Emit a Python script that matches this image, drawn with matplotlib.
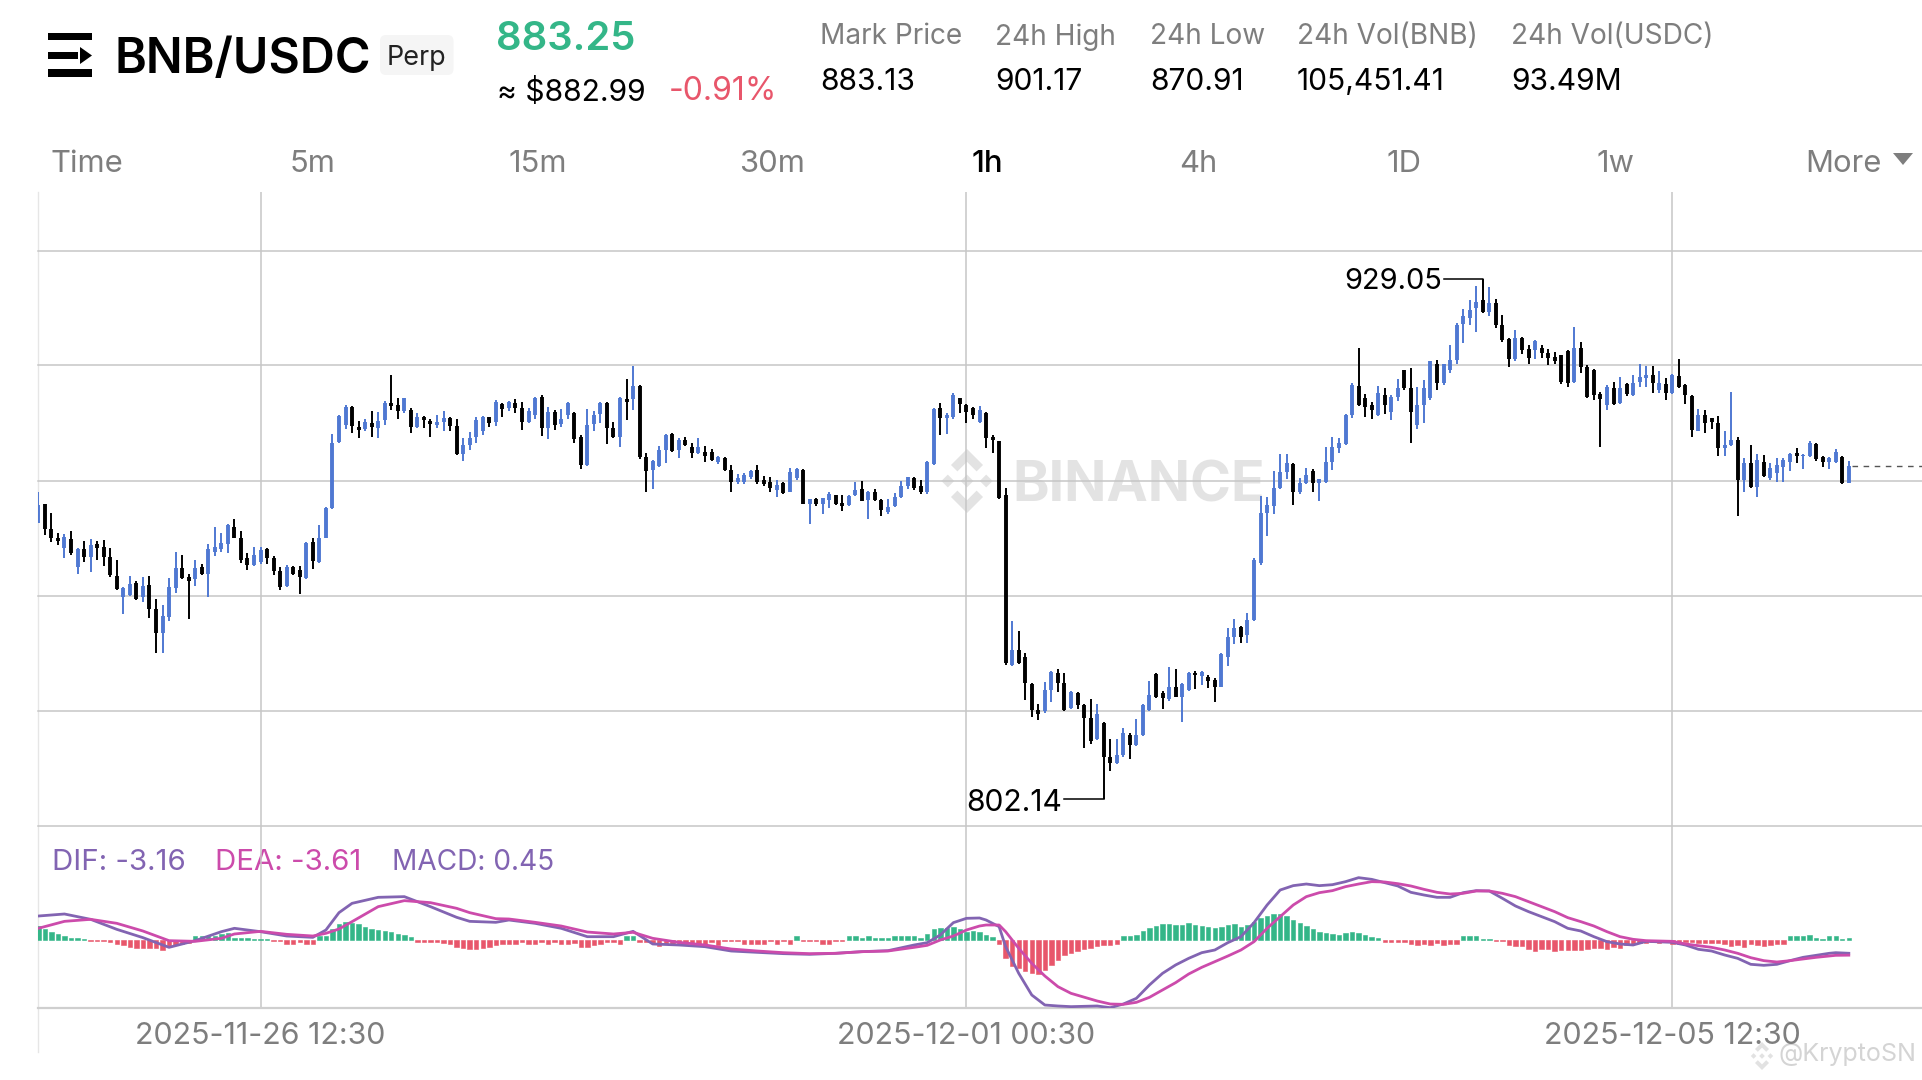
import matplotlib
matplotlib.use("Agg")
import matplotlib.pyplot as plt
from matplotlib.patches import FancyBboxPatch, Polygon, Rectangle

plt.rcParams['font.family'] = ['Inter', 'DejaVu Sans']

# hourly candles
opens = [869.4,874.1,868.1,865.7,863.3,865.5,858.8,863.0,861.2,864.3,
863.5,861.2,856.5,851.4,851.8,854.7,851.4,854.3,848.4,842.5,
846.6,853.5,858.4,856.3,855.7,858.8,857.0,862.4,863.0,864.3,
868.4,865.7,860.8,859.2,859.8,863.0,860.8,857.6,854.1,858.8,
858.0,855.9,864.9,860.0,865.9,873.0,889.3,893.4,897.9,893.0,
892.3,893.8,892.6,894.6,898.7,898.3,896.9,897.1,893.0,895.3,
894.4,893.4,894.2,895.0,893.1,886.3,888.5,890.5,892.0,895.3,
894.0,898.5,897.5,898.7,897.5,894.2,895.8,900.3,892.6,896.6,
893.6,895.8,896.2,890.5,883.6,893.6,896.1,898.7,892.6,890.5,
899.7,899.7,902.9,885.5,882.4,883.4,887.3,891.2,887.3,889.7,
888.1,886.6,886.9,886.9,884.4,885.4,882.4,879.5,879.5,880.6,
882.4,880.0,879.5,877.5,879.1,877.1,880.4,882.5,874.2,875.2,
874.2,875.1,876.2,874.4,873.8,876.3,877.7,875.1,876.9,875.1,
872.2,873.6,875.9,878.5,880.4,878.5,876.9,883.9,897.5,895.0,
895.3,899.9,898.3,897.5,894.2,896.4,890.4,889.4,876.3,834.8,
838.3,836.6,830.0,823.8,823.4,828.6,832.7,830.3,824.2,828.0,
825.0,821.7,816.8,820.7,812.2,810.7,812.8,817.7,815.2,817.7,
823.8,832.6,827.8,826.4,829.5,827.0,828.6,832.7,832.1,831.9,
831.1,829.5,836.8,841.5,844.0,842.1,845.8,859.6,871.8,873.6,
877.9,882.0,883.9,877.1,879.1,882.2,879.1,879.5,884.4,887.7,
888.7,895.8,902.8,899.9,898.3,895.8,900.7,896.6,900.3,906.7,
902.3,893.4,898.3,900.1,908.4,903.6,906.8,909.3,918.1,919.4,
921.9,923.8,921.1,923.1,917.8,914.5,909.4,914.6,911.9,911.7,
912.1,910.9,909.9,910.4,911.5,904.0,912.1,907.5,906.8,901.0,
898.3,902.3,898.7,903.4,900.7,904.0,904.8,905.6,901.9,903.4,
901.1,905.4,903.2,900.5,892.0,895.8,895.0,893.8,887.7,888.5,
889.7,879.9,884.0,878.3,884.4,880.4,881.6,883.2,884.4,886.5,
885.7,885.7,888.7,885.5,884.4,884.4,885.5,879.3]

closes = [873.8,868.1,865.7,865.0,866.1,862.0,863.0,861.2,864.1,863.3,
861.2,856.7,853.2,853.5,854.5,851.0,854.1,848.4,842.5,846.7,
853.7,858.4,855.9,855.3,858.4,857.0,863.0,863.5,864.5,868.9,
865.9,860.4,859.2,861.6,862.9,861.0,857.6,853.7,858.8,857.0,
856.2,864.6,860.2,865.9,873.0,888.9,895.6,897.7,893.1,892.2,
894.0,892.8,894.4,898.8,898.0,896.9,899.9,892.8,895.3,894.6,
893.6,894.2,895.0,893.1,886.3,888.5,890.1,894.6,895.3,893.8,
899.1,897.2,899.0,897.5,894.2,896.9,899.9,892.6,896.6,893.4,
894.8,898.7,889.9,883.6,893.4,895.8,898.8,892.6,890.5,899.9,
899.1,902.8,885.5,882.2,884.7,887.3,890.9,887.0,889.7,888.5,
886.6,887.9,885.8,884.8,885.5,882.4,879.5,880.4,881.2,882.2,
879.5,879.0,877.9,878.7,876.7,882.0,882.7,874.2,875.2,874.2,
875.5,876.5,874.2,873.6,876.0,877.5,874.9,876.9,875.1,872.6,
873.4,875.9,878.5,880.6,877.9,877.1,884.4,897.2,895.0,895.8,
900.7,898.5,896.6,895.8,897.1,890.1,889.7,875.5,835.2,838.4,
835.2,830.3,823.8,822.9,828.6,833.1,830.3,823.8,828.2,825.0,
821.7,816.3,822.8,812.2,810.7,812.8,818.1,815.2,817.7,825.0,
827.4,827.0,826.6,829.3,827.0,830.1,832.9,832.3,833.1,830.9,
829.5,837.4,841.5,843.7,841.7,845.8,860.4,872.0,873.8,877.9,
882.0,884.0,877.1,879.1,881.2,879.1,880.1,884.4,888.1,889.1,
895.8,903.2,898.3,897.9,897.0,901.1,898.3,900.3,902.3,902.3,
896.6,898.3,902.3,908.9,903.6,908.3,909.3,917.8,919.9,921.5,
923.5,921.1,923.1,917.8,914.1,909.4,914.6,911.7,909.7,913.9,
910.9,909.7,908.9,904.0,903.6,912.1,907.5,900.3,900.7,899.7,
902.7,898.5,902.3,901.0,903.7,905.2,905.6,903.6,903.6,901.3,
905.5,902.7,900.7,892.2,895.8,893.8,894.0,887.7,888.5,889.7,
879.9,884.0,878.3,884.8,880.9,882.8,883.6,884.8,886.3,885.7,
886.1,889.1,885.0,884.4,885.2,886.9,879.3,883.25]

highs = [877.1,874.1,871.8,867.1,866.8,867.6,863.3,865.1,865.5,865.0,
865.2,863.3,860.4,853.9,856.5,855.2,856.2,856.5,850.8,849.4,
856.1,862.4,861.6,856.9,860.4,859.4,864.3,868.5,866.9,869.2,
870.5,867.6,862.0,863.5,863.5,863.3,861.5,858.8,859.1,859.0,
858.9,864.9,865.9,868.9,873.4,891.2,895.8,898.2,898.1,894.4,
894.9,896.7,896.5,899.2,905.5,900.1,900.1,897.6,896.2,895.5,
894.8,895.8,896.7,895.3,894.9,890.1,891.7,895.3,895.7,895.4,
899.5,898.8,899.2,899.7,898.9,897.6,900.3,900.7,897.7,897.0,
897.2,899.0,896.5,890.9,897.4,896.9,899.1,898.9,894.0,900.3,
904.5,907.8,903.2,886.5,884.8,888.3,891.3,891.5,890.1,890.5,
888.9,890.2,888.2,887.5,885.8,885.5,883.7,881.3,881.7,882.4,
883.5,880.9,880.6,879.9,879.4,883.0,882.9,882.7,875.4,875.6,
875.6,876.9,876.4,876.2,876.3,879.5,879.8,877.2,877.8,875.2,
875.2,876.7,879.6,880.8,880.6,880.0,884.7,897.5,898.8,896.3,
901.1,900.1,898.5,897.7,898.0,896.6,891.0,889.5,878.0,845.6,
843.1,837.6,830.3,825.2,830.6,833.4,833.8,832.9,828.5,828.2,
825.2,826.4,825.2,820.9,816.8,816.6,819.3,818.1,821.6,825.2,
830.8,832.7,828.4,834.3,833.7,830.4,833.1,833.4,833.4,832.3,
831.5,837.8,843.7,846.0,844.3,847.4,860.8,876.0,875.9,882.2,
886.3,886.2,884.0,880.5,883.0,882.6,880.3,887.9,890.5,890.1,
896.1,903.6,912.1,900.9,898.9,902.9,902.3,900.6,904.7,906.8,
907.2,902.6,904.4,909.0,909.3,908.4,912.9,918.2,921.6,923.9,
927.3,929.05,927.0,924.1,920.3,914.7,916.6,914.8,913.0,914.1,
913.0,911.9,911.3,910.6,911.7,917.4,913.6,908.0,907.0,901.4,
903.1,904.0,905.0,903.7,905.6,908.2,907.8,907.8,906.5,904.9,
905.8,909.4,903.5,900.6,897.3,897.0,895.2,895.7,891.8,901.5,
890.4,885.2,888.6,886.4,886.1,884.0,885.2,885.4,886.6,887.7,
886.2,889.5,889.0,885.9,885.5,887.4,885.7,884.5]

lows = [869.4,866.5,864.9,864.1,860.9,861.6,857.1,859.8,857.5,860.4,
858.9,856.2,853.1,847.2,851.6,850.6,850.2,846.2,837.6,837.8,
845.6,852.4,855.8,845.9,854.1,856.8,851.4,861.4,862.4,862.0,
865.8,859.6,858.0,858.9,859.4,859.4,856.7,853.1,853.9,856.7,
852.1,855.7,858.3,859.6,865.7,872.8,889.1,892.3,891.5,890.1,
892.0,890.5,890.3,893.5,897.1,894.8,896.4,891.5,892.7,892.7,
890.5,892.6,892.0,891.8,886.1,884.7,887.3,889.1,890.9,892.8,
893.1,895.4,896.9,896.4,892.2,893.8,894.9,890.7,890.0,892.1,
893.0,894.9,889.1,882.6,883.4,891.8,893.8,888.8,890.3,887.9,
894.5,897.1,885.0,877.0,877.8,883.2,884.0,886.9,885.2,888.2,
885.4,886.3,884.4,884.5,883.9,882.1,877.1,879.0,879.0,880.3,
879.0,878.6,877.1,875.9,876.6,876.9,880.0,874.1,869.3,873.7,
871.7,873.0,873.9,872.4,873.7,876.0,874.7,870.5,874.7,871.2,
871.7,873.3,875.5,877.8,877.4,876.6,876.6,883.7,891.0,891.3,
894.8,896.3,893.8,894.9,893.8,887.7,886.5,875.2,834.8,834.6,
835.0,826.2,822.1,821.3,823.1,825.8,828.1,823.4,823.9,823.9,
814.4,815.4,816.4,802.14,808.9,810.6,812.4,811.7,815.0,817.4,
823.5,826.8,824.1,826.0,826.9,820.8,828.4,829.0,829.8,829.1,
825.8,829.3,834.6,839.9,840.1,840.2,845.5,859.1,866.3,871.6,
877.7,880.3,873.8,876.6,878.9,877.0,874.7,879.3,882.4,886.6,
888.5,895.0,898.0,895.4,894.8,895.7,896.0,894.7,899.2,901.9,
888.9,892.5,893.8,899.5,901.9,903.2,906.2,908.3,913.3,917.8,
916.2,920.8,920.1,917.2,913.7,907.5,909.0,910.7,908.4,909.4,
909.7,908.0,908.4,903.4,902.7,903.6,906.0,900.1,899.5,887.9,
897.1,898.2,898.5,900.5,900.5,902.7,902.7,901.1,901.3,899.5,
901.0,902.4,898.4,890.5,891.8,891.5,892.4,885.7,885.7,888.3,
871.2,876.9,878.1,875.9,880.6,880.0,879.5,879.5,882.2,884.2,
882.6,885.5,884.7,883.2,882.7,884.2,878.9,879.1]

macd_hist = [3.4,2.5,2.0,1.4,.9,.5,.4,.3,-.3,-.3,
-.3,-.4,-.9,-1.3,-1.6,-1.9,-2.0,-2.0,-2.0,-2.5,
-1.6,-1.1,-1.0,-.8,1.0,1.0,1.0,.9,1.5,1.7,
.5,.4,.4,.3,.3,.3,-.3,-.3,-1.0,-1.0,
-.5,-1.0,-1.0,1.0,1.0,2.5,3.8,4.4,4.1,3.7,
3.2,2.7,2.3,2.1,1.9,1.4,1.1,.7,-.4,-.4,
-.4,-.5,-.7,-1.0,-1.7,-1.9,-2.2,-2.1,-1.9,-1.7,
-1.3,-1.0,-1.0,-1.0,-.5,-1.0,-1.0,-.5,-1.0,-.5,
-1.0,-1.0,-.6,-1.6,-1.7,-1.3,-1.0,-.4,-.4,-1.0,
.9,.9,-.4,-.5,-.7,-1.5,-1.0,-1.0,-1.0,-1.0,
-1.0,-1.0,-1.0,-.4,-1.1,-.3,-.3,-.3,-1.0,-1.0,
-1.0,-1.0,-.3,-1.0,-.3,-1.0,1.0,-.3,-.3,-.3,
-1.0,-1.0,-.3,-.3,1.0,1.0,.4,1.0,.4,.4,
.4,1.0,1.0,1.0,1.0,.4,1.5,2.5,2.8,2.8,
3.0,2.5,2.0,2.1,1.9,1.1,.6,-.9,-4.4,-6.2,
-6.7,-7.5,-7.9,-8.1,-7.1,-6.0,-4.8,-3.6,-3.0,-2.6,
-2.2,-2.0,-1.4,-1.3,-1.2,-1.0,1.0,1.0,1.2,2.1,
2.9,3.3,3.7,3.9,3.6,3.5,4.0,3.6,3.3,3.2,
2.8,3.2,3.5,3.7,3.2,3.5,4.4,5.2,5.8,6.1,
6.3,5.7,4.8,4.0,3.4,2.5,1.8,1.6,1.4,1.2,
1.7,2.0,1.6,1.1,.6,.5,-.4,-.4,-.4,-.5,
-1.0,-1.3,-.9,-1.3,-.6,-1.1,-1.0,-1.0,1.0,1.0,
1.0,.3,.3,-.3,-.3,-1.2,-1.4,-1.5,-2.2,-2.6,
-2.2,-2.2,-2.6,-2.4,-2.5,-2.3,-2.3,-2.2,-2.0,-2.0,
-2.2,-1.7,-1.8,-1.2,-1.0,-.8,-.7,-.5,-.6,-.5,
-1.0,-1.0,-.4,-.4,-.6,-.6,-.6,-.6,-1.0,-1.5,
-1.2,-1.6,-1.0,-1.3,-1.4,-1.2,-1.0,-1.0,1.0,1.0,
1.0,1.1,.4,.3,1.0,1.0,.3,.45]

line_idx = [0,4,8,12,16,20,24,28,30,34,38,42,44,46,48,52,56,60,64,66,70,
72,76,80,84,88,91,94,98,102,106,110,114,118,122,126,130,134,136,138,140,142,
144,145,147,148,150,152,154,156,158,162,164,166,168,170,172,174,176,178,180,
182,184,186,188,190,192,194,196,198,200,202,204,206,208,210,
212,214,216,218,220,222,224,226,228,230,232,234,236,238,240,242,244,246,250,
252,254,256,258,260,262,264,266,268,270,272,274,275,277]

dif = [5.71,6.19,4.92,2.54,.56,-1.75,-.16,1.98,2.78,1.98,.95,.63,2.38,6.51,8.73,10.16,10.32,7.94,5.40,4.44,4.21,
4.76,3.97,2.78,.79,.79,2.06,-.95,-1.19,-1.59,-2.62,-2.94,-3.25,-3.41,-3.17,-2.78,-2.54,-1.19,-.63,1.19,4.13,5.16,
5.24,4.76,3.17,-1.59,-7.94,-13.1,-15.48,-15.71,-15.87,-15.71,-16.11,-15.24,-13.89,-10.71,-7.94,-5.95,-4.37,-3.02,-2.38,
-.63,.79,4.13,8.33,11.9,12.94,13.33,12.94,13.17,13.89,14.84,14.44,13.65,12.86,11.35,
10.71,10.16,10.16,11.27,11.75,11.67,9.92,8.10,6.75,5.56,4.37,2.78,2.14,.79,-.40,-.95,-1.19,-.32,-.56,
-1.19,-2.22,-2.62,-3.57,-4.37,-5.79,-6.03,-5.79,-4.92,-4.13,-3.65,-3.17,-3.02,-3.16]

dea = [2.78,4.44,4.92,3.97,2.14,-.16,-.32,.40,1.43,2.06,1.35,.95,1.59,2.62,4.37,7.94,9.37,8.89,7.54,6.51,5.08,
5.0,4.21,3.33,1.90,1.43,1.83,.40,-.56,-1.19,-2.14,-2.62,-3.02,-3.25,-3.17,-2.78,-2.62,-1.75,-1.27,0,.95,2.38,
3.33,3.57,3.57,1.98,-1.98,-5.56,-8.57,-11.11,-12.7,-14.52,-15.24,-15.32,-14.84,-13.65,-11.9,-10.16,-8.10,-6.51,-5.16,
-3.81,-2.38,-.40,2.78,5.56,8.33,10.32,11.27,11.75,12.7,13.33,13.89,13.81,13.41,12.86,
12.06,11.35,10.95,11.11,11.67,11.67,11.11,10.32,9.13,7.94,6.75,5.32,4.37,3.33,1.98,.79,.16,-.16,-.32,
-.95,-1.35,-1.75,-2.38,-3.17,-4.21,-4.92,-5.24,-4.92,-4.52,-4.13,-3.81,-3.65,-3.61]

tick_idx = [34, 142, 250]
tick_labels = ['2025-11-26 12:30', '2025-12-01 00:30', '2025-12-05 12:30']
price_grid = [936.0, 907.96, 879.8, 851.7, 823.6, 795.55]
high_idx, low_idx = 221, 163

tabs = ['Time', '5m', '15m', '30m', '1h', '4h', '1D', '1w', 'More']
tab_x = [51, 290, 509, 739, 972, 1179, 1386, 1597, 1805]
stat_names = ['Mark Price', '24h High', '24h Low', '24h Vol(BNB)', '24h Vol(USDC)']
stat_values = ['883.13', '901.17', '870.91', '105,451.41', '93.49M']
stat_x = [820, 995, 1150, 1297, 1511]

BLUE, GREEN, RED = '#4f78d2', '#34b688', '#e8566b'
GRID, GREY = '#c6c6c6', '#7e7e7e'
PURPLE, PINK = '#8264b2', '#cc4bab'

W, H = 1922, 1080
fig = plt.figure(figsize=(W / 100, H / 100), dpi=100)

# full-figure layer in pixel units for the header and watermarks
bg = fig.add_axes([0, 0, 1, 1])
bg.set_xlim(0, W)
bg.set_ylim(H, 0)
bg.axis('off')


def put(x, y, s, size, color='black', **kw):
    bg.text(x, y, s, fontsize=size * 0.72, color=color, va='center', **kw)


def binance_logo(cx, cy, r, color):
    shapes = [
        [(0, -.2), (.2, 0), (0, .2), (-.2, 0)],
        [(-.6, -.2), (-.4, 0), (-.6, .2), (-.8, 0)],
        [(.6, -.2), (.8, 0), (.6, .2), (.4, 0)],
        [(0, -1), (.5, -.5), (.3, -.3), (0, -.6), (-.3, -.3), (-.5, -.5)],
        [(0, 1), (.5, .5), (.3, .3), (0, .6), (-.3, .3), (-.5, .5)],
    ]
    for s in shapes:
        bg.add_patch(Polygon([(cx + a * r, cy + b * r) for a, b in s], color=color, lw=0))


# header
bg.add_patch(Rectangle((48, 33), 44, 7, color='black', lw=0))
bg.add_patch(Rectangle((48, 52), 30, 7, color='black', lw=0))
bg.add_patch(Polygon([(80, 47), (92, 55.5), (80, 64)], color='black', lw=0))
bg.add_patch(Rectangle((48, 69), 44, 8, color='black', lw=0))
put(114, 60, 'BNB/USDC', 48.5, weight='semibold')
bg.add_patch(FancyBboxPatch((384, 39), 65.5, 32, boxstyle='round,pad=4,rounding_size=6', color='#f5f5f5', lw=0))
put(416, 58, 'Perp', 27, color='#222222', ha='center')
put(496, 39, '883.25', 40, color=GREEN, weight='semibold')
put(497, 92, '≈ $882.99', 30)
put(669, 92, '-0.91%', 32, color=RED)
for x, name, value in zip(stat_x, stat_names, stat_values):
    put(x, 37, name, 28, color=GREY)
    put(x, 82, value, 30)
for x, tab in zip(tab_x, tabs):
    if tab == '1h':
        put(x, 164, tab, 31, weight='medium')
    else:
        put(x, 164, tab, 31, color=GREY)
bg.add_patch(Polygon([(1893, 153), (1913, 153), (1903, 165)], color=GREY, lw=0))

# watermarks
binance_logo(967, 481, 32, '#e3e3e3')
put(1012, 487, 'BINANCE', 55.5, color='#e3e3e3', weight='bold')
binance_logo(1762, 1056, 14, '#e2e2e2')
put(1779, 1054, '@KryptoSN', 25, color='#d4d4d4')

bg.plot([38, 38], [192, 1052], color='#e6e6e6', lw=1)

# price panel
ax = fig.add_axes([38 / W, 1 - 825.5 / H, (W - 38) / W, (825.5 - 192) / H], zorder=2)
ax.patch.set_alpha(0)
ax.set_xlim(-0.05, 288.2)
ax.set_ylim(795.55, 950.3)
ax.axis('off')
for p in price_grid:
    ax.axhline(p, color=GRID, lw=1.1, clip_on=False, zorder=1)
for t in tick_idx:
    ax.axvline(t, color=GRID, lw=1.1, zorder=1)

x_vals = list(range(len(opens)))
candle_colors = [BLUE if c >= o else 'black' for o, c in zip(opens, closes)]
ax.vlines(x_vals, lows, highs, colors=candle_colors, lw=1.4, zorder=3)
ax.vlines(x_vals, opens, closes, colors=candle_colors, lw=2.8, zorder=3)

# last price
ax.plot([x_vals[-1] + 0.5, 288.2], [closes[-1], closes[-1]], color='#555555', lw=1, ls=(0, (4, 4)), zorder=2)

# high and low markers
ax.plot([high_idx - 6, high_idx, high_idx], [highs[high_idx], highs[high_idx], highs[high_idx] - 2],
        color='black', lw=1.1, zorder=3)
ax.annotate('929.05', xy=(high_idx - 6.3, highs[high_idx]), xytext=(0, -2), textcoords='offset points',
            ha='right', va='center', fontsize=29 * 0.72)
ax.plot([low_idx - 6, low_idx], [lows[low_idx], lows[low_idx]], color='black', lw=1.1, zorder=3)
ax.annotate('802.14', xy=(low_idx - 6.3, lows[low_idx]), xytext=(0, -3), textcoords='offset points',
            ha='right', va='center', fontsize=30 * 0.72)

# MACD panel
ax2 = fig.add_axes([38 / W, 1 - 1008 / H, (W - 38) / W, (1008 - 825.5) / H], zorder=2)
ax2.patch.set_alpha(0)
ax2.set_xlim(-0.05, 288.2)
ax2.set_ylim(-16.19, 27.26)
for s in ['top', 'left', 'right']:
    ax2.spines[s].set_visible(False)
ax2.spines['bottom'].set_color('#cfcfcf')
ax2.spines['bottom'].set_linewidth(1.6)
ax2.set_yticks([])
ax2.set_xticks(tick_idx)
ax2.set_xticklabels(tick_labels, fontsize=30.4 * 0.72, color=GREY)
ax2.tick_params(axis='x', length=0, pad=10)
for t in tick_idx:
    ax2.axvline(t, color=GRID, lw=1.1, zorder=1)

hist_colors = [GREEN if v >= 0 else RED for v in macd_hist]
ax2.bar(x_vals, macd_hist, width=0.68, color=hist_colors, edgecolor=hist_colors, lw=0.4, zorder=2)
ax2.plot(line_idx, dif, color=PURPLE, lw=2.0, zorder=3)
ax2.plot(line_idx, dea, color=PINK, lw=2.0, zorder=4)

put(52, 863, 'DIF: -3.16', 29.5, color=PURPLE)
put(215, 863, 'DEA: -3.61', 29.5, color=PINK)
put(392, 863, 'MACD: 0.45', 28, color=PURPLE)

fig.savefig('out.png', dpi=100)
